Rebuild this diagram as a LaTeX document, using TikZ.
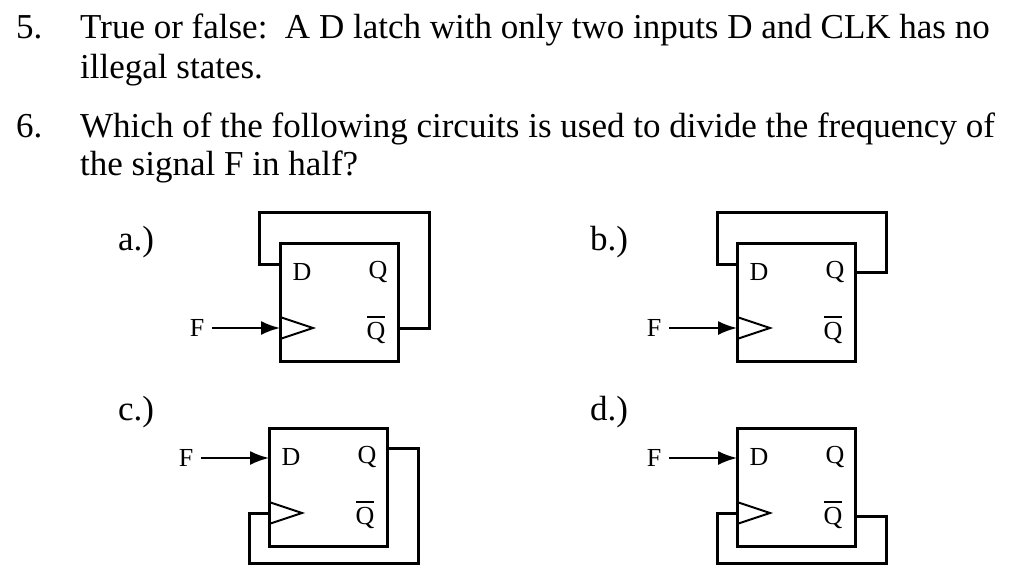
\documentclass[tikz,border=0pt]{standalone}
\usepackage{fontspec}
\setmainfont{Liberation Serif}
\usetikzlibrary{arrows.meta}
\begin{document}
\begin{tikzpicture}[x=1pt,y=-1pt,
  w/.style={line width=3pt},
  box/.style={w},
  big/.style={font=\fontsize{35}{40}\selectfont, anchor=base west, inner sep=0},
  pin/.style={font=\fontsize{26}{30}\selectfont, inner sep=0},
  arr/.style={line width=2pt,-{Latex[length=19pt,width=14pt]}}]
\useasboundingbox (0,0) rectangle (1024,582);
\node[big] (t5n) at (16,38) {5.};
\node[big] (t5a) at (80,38) {True or false:\ \ A D latch with only two inputs D and CLK has no};
\node[big] (t5b) at (80,78) {illegal states.};
\node[big] (t6n) at (16,137) {6.};
\node[big] (t6a) at (80,137) {Which of the following circuits is used to divide the frequency of};
\node[big] (t6b) at (80,175) {the signal F in half?};
\node[big] (la) at (118,250) {a.)};
\node[big] (lb) at (590,250) {b.)};
\node[big] (lc) at (118,420) {c.)};
\node[big] (ld) at (590,420) {d.)};
\foreach \dx/\dy/\nm in {0/0/A,457/0/B,-11/185/C,457/185/D}{
  \begin{scope}[shift={(\dx,\dy)}]
    \draw[box] (280,243) rectangle (398,361);
    \node[pin] at (302,272) {D};
    \node[pin] at (378,272) {Q};
    \node[pin] at (376,333) {Q};
    \draw[line width=2pt] (367,317) -- (385,317);
    \draw[line width=2pt] (280,317) -- (313,328) -- (280,339);
  \end{scope}}
% a
\coordinate (aDin) at (280,264);
\coordinate (aQb) at (398,328);
\draw[w] (aQb) -- (429,328) -- (429,212) -- (259,212) -- (259,264) -- (aDin);
\node[pin] (aF) at (197,328) {F};
\draw[arr] (aF.east)++(8,0) -- (280,328);
% b
\coordinate (bQ) at (855,272);
\coordinate (bDin) at (737,264);
\draw[w] (bQ) -- (886,272) -- (886,212) -- (717,212) -- (717,264) -- (bDin);
\node[pin] (bF) at (654,328) {F};
\draw[arr] (bF.east)++(8,0) -- (737,328);
% c
\coordinate (cQ) at (387,448);
\coordinate (cClk) at (269,513);
\draw[w] (cQ) -- (418,448) -- (418,563) -- (249,563) -- (249,513) -- (cClk);
\node[pin] (cF) at (186,458) {F};
\draw[arr] (cF.east)++(8,0) -- (269,458);
% d
\coordinate (dQb) at (855,516);
\coordinate (dClk) at (737,513);
\draw[w] (dQb) -- (886,516) -- (886,563) -- (717,563) -- (717,513) -- (dClk);
\node[pin] (dF) at (654,458) {F};
\draw[arr] (dF.east)++(8,0) -- (737,458);
\end{tikzpicture}
\end{document}
